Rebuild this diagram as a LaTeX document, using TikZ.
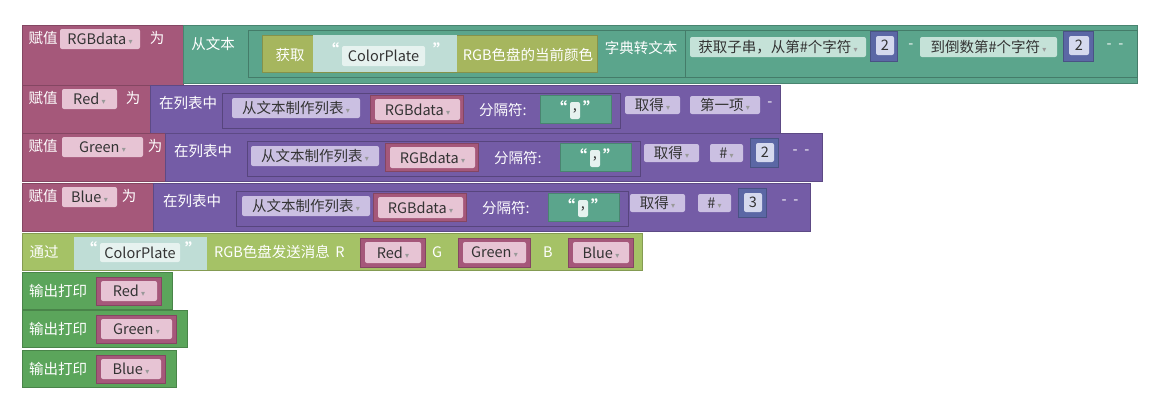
\documentclass[tikz,border=0pt]{standalone}
\usepackage{fontspec}
\setmainfont{Noto Sans CJK SC}
\newfontfamily\dv{DejaVu Sans}
\usetikzlibrary{fit}
\definecolor{cpink}{HTML}{A5587A}
\definecolor{cteal}{HTML}{5BA58C}
\definecolor{colive}{HTML}{A6B65E}
\definecolor{cstr}{HTML}{BFDDD6}
\definecolor{cpur}{HTML}{745CA6}
\definecolor{cnum}{HTML}{5B67A5}
\definecolor{clgreen}{HTML}{A5C266}
\definecolor{cgreen}{HTML}{5BA55B}
\definecolor{ddpink}{HTML}{E7C4D4}
\definecolor{ddteal}{HTML}{C5E2D8}
\definecolor{ddpur}{HTML}{CBC0E2}
\definecolor{ddnum}{HTML}{D5D9EE}
\definecolor{ddstr}{HTML}{E6F2EF}
\newcommand\blk[6]{\node[#2,fit={(#3,#4)(#5,#6)},inner sep=0pt] (#1) {};}
\newcommand\arr{\,{\dv\fontsize{8}{8}\selectfont\textcolor{black!40}{▾}}}
\tikzset{
 blockA/.style={fill=#1,draw=#1!80!black,line width=0.6pt},
 outl/.style={draw=#1!75!black,line width=0.8pt},
 dd/.style={fill=#1,rounded corners=2pt},
 wt/.style={text=white,font=\fontsize{14.5}{16}\selectfont,inner sep=0pt},
 dt/.style={text=black!80,font=\fontsize{14.5}{16}\selectfont,inner sep=0pt},
 qt/.style={text=white,font=\bfseries\fontsize{16}{16}\selectfont,inner sep=0pt},
}
\begin{document}
\begin{tikzpicture}[x=1pt,y=-1pt]
\useasboundingbox (0,0) rectangle (1150,405);
% Row 1
\blk{p1}{blockA=cpink}{22}{25}{183}{85}
\blk{t1}{blockA=cteal}{183}{25}{1137}{83}
\blk{o1}{outl=cteal}{248}{30}{685}{77}
\blk{ol1}{blockA=colive}{262}{35}{597}{72}
\blk{s1}{fill=cstr}{313}{35}{457}{72}
\blk{s1i}{dd=ddstr}{342}{46}{425}{66}
\blk{d1}{dd=ddpink}{60}{29}{140}{49}
\blk{o1b}{outl=cteal}{685}{30}{1137}{77}
\blk{dd1a}{dd=ddteal}{690}{37}{866}{57}
\blk{n1a}{blockA=cnum}{870}{31}{897}{61}
\blk{n1ai}{dd=ddnum}{876}{36}{894}{55}
\blk{dd1b}{dd=ddteal}{920}{37}{1057}{57}
\blk{n1b}{blockA=cnum}{1063}{31}{1093}{61}
\blk{n1bi}{dd=ddnum}{1069}{36}{1089}{55}
\node[wt] at (43,38) {赋值};
\node[dt] at (d1) {RGBdata\arr};
\node[wt] at (157,38) {为};
\node[wt] at (213,44) {从文本};
\node[wt] at (290,55) {获取};
\node[qt] at (331,50) {“};
\node[dt] at (s1i) {ColorPlate};
\node[qt] at (441,50) {”};
\node[wt] at (528,55) {RGB色盘的当前颜色};
\node[wt] at (641,48) {字典转文本};
\node[dt] at (dd1a) {获取子串，从第\#个字符\arr};
\node[dt] at (n1ai) {2};
\node[wt] at (911,46) {-};
\node[dt] at (dd1b) {到倒数第\#个字符\arr};
\node[dt] at (n1bi) {2};
\node[wt] at (1115,46) {-\ \ -};
% Rows 2-4
\foreach \r/\y/\pw/\pe in {2/85/150/780, 3/133/165/822, 4/183/153/810}{
 \pgfmathsetmacro\yb{\y+48}
 \blk{p\r}{blockA=cpink}{22}{\y}{\pw}{\yb}
 \blk{u\r}{blockA=cpur}{\pw}{\y}{\pe}{\yb}
}
\foreach \r/\y/\vw/\wx/\lx/\ox/\oxe/\ddx/\rb/\sx/\qx/\dx in {
 2/85/117/133/188/222/620/232/370/503/540/625,
 3/133/143/155/203/247/640/251/385/518/560/644,
 4/183/117/129/192/236/628/242/373/506/548/630}{
 \pgfmathsetmacro\ya{\y+4}\pgfmathsetmacro\yc{\y+24}
 \blk{v\r}{dd=ddpink}{62}{\ya}{\vw}{\yc}
 \pgfmathsetmacro\yo{\y+8}\pgfmathsetmacro\yoo{\y+43}
 \blk{o\r}{outl=cpur}{\ox}{\yo}{\oxe}{\yoo}
 \pgfmathsetmacro\yd{\y+13}\pgfmathsetmacro\ydd{\y+33}
 \pgfmathsetmacro\ddxe{\ddx+128}
 \blk{m\r}{dd=ddpur}{\ddx}{\yd}{\ddxe}{\ydd}
 \pgfmathsetmacro\yr{\y+10}\pgfmathsetmacro\yrr{\y+38}
 \pgfmathsetmacro\rbe{\rb+93}
 \blk{rb\r}{blockA=cpink}{\rb}{\yr}{\rbe}{\yrr}
 \pgfmathsetmacro\rbi{\rb+5}\pgfmathsetmacro\rbie{\rb+90}
 \pgfmathsetmacro\yri{\y+14}\pgfmathsetmacro\yrii{\y+35}
 \blk{rbi\r}{dd=ddpink}{\rbi}{\yri}{\rbie}{\yrii}
 \pgfmathsetmacro\qxe{\qx+71}
 \blk{q\r}{blockA=cteal}{\qx}{\yr}{\qxe}{\yrr}
 \pgfmathsetmacro\qm{\qx+35}
 \pgfmathsetmacro\yq{\y+17}\pgfmathsetmacro\yqq{\y+34}
 \pgfmathsetmacro\qa{\qm-5}\pgfmathsetmacro\qb{\qm+5}
 \blk{qi\r}{dd=ddstr}{\qa}{\yq}{\qb}{\yqq}
 \pgfmathsetmacro\dxe{\dx+55}
 \pgfmathsetmacro\yg{\y+11}\pgfmathsetmacro\ygg{\y+29}
 \blk{g\r}{dd=ddpur}{\dx}{\yg}{\dxe}{\ygg}
 \pgfmathsetmacro\yw{\y+13}\pgfmathsetmacro\yl{\y+18}\pgfmathsetmacro\ys{\y+25}
 \pgfmathsetmacro\yqt{\y+23}
 \pgfmathsetmacro\qla{\qm-16}\pgfmathsetmacro\qlb{\qm+16}
 \node[wt] at (43,\yw) {赋值};
 \node[wt] at (\wx,\yw) {为};
 \node[wt] at (\lx,\yl) {在列表中};
 \node[dt] at (m\r) {从文本制作列表\arr};
 \node[dt] at (rbi\r) {RGBdata\arr};
 \node[wt] at (\sx,\ys) {分隔符:};
 \node[qt] at (\qla,\yqt) {“};
 \node[qt] at (\qlb,\yqt) {”};
 \node[dt] at (qi\r) {,};
 \node[dt] at (g\r) {取得\arr};
}
\node[dt] at (v2) {Red\arr};
\node[dt] at (v3) {Green\arr};
\node[dt] at (v4) {Blue\arr};
\blk{f2}{dd=ddpur}{690}{96}{760}{114}
\node[dt] at (f2) {第一项\arr};
\node[wt] at (770,104) {-};
\blk{h3}{dd=ddpur}{710}{144}{743}{162}
\node[dt] at (h3) {\#\arr};
\blk{n3}{blockA=cnum}{750}{138}{778}{167}
\blk{n3i}{dd=ddnum}{756}{143}{774}{162}
\node[dt] at (n3i) {2};
\node[wt] at (801,152) {-\ \ -};
\blk{h4}{dd=ddpur}{698}{194}{731}{212}
\node[dt] at (h4) {\#\arr};
\blk{n4}{blockA=cnum}{738}{188}{766}{217}
\blk{n4i}{dd=ddnum}{744}{193}{762}{212}
\node[dt] at (n4i) {3};
\node[wt] at (790,202) {-\ \ -};
% Row 5
\blk{l5}{blockA=clgreen}{22}{233}{642}{270}
\blk{s5}{fill=cstr}{74}{237}{207}{270}
\blk{s5i}{dd=ddstr}{100}{243}{180}{262}
\node[wt] at (44,252) {通过};
\node[qt] at (89,249) {“};
\node[dt] at (s5i) {ColorPlate};
\node[qt] at (193,249) {”};
\node[wt] at (272,252) {RGB色盘发送消息};
\node[wt] at (340,252) {R};
\node[wt] at (437,252) {G};
\node[wt] at (548,252) {B};
\blk{r5}{blockA=cpink}{360}{238}{425}{267}
\blk{r5i}{dd=ddpink}{365}{242}{421}{263}
\node[dt] at (r5i) {Red\arr};
\blk{g5}{blockA=cpink}{458}{238}{530}{267}
\blk{g5i}{dd=ddpink}{463}{242}{526}{263}
\node[dt] at (g5i) {Green\arr};
\blk{b5}{blockA=cpink}{568}{238}{633}{267}
\blk{b5i}{dd=ddpink}{573}{242}{629}{263}
\node[dt] at (b5i) {Blue\arr};
% Rows 6-8
\foreach \r/\y/\xe/\be/\t in {6/272/172/161/Red,7/310/187/176/Green,8/350/176/165/Blue}{
 \pgfmathsetmacro\yb{\y+37}
 \blk{k\r}{blockA=cgreen}{22}{\y}{\xe}{\yb}
 \pgfmathsetmacro\ya{\y+5}\pgfmathsetmacro\yc{\y+33}
 \blk{kb\r}{blockA=cpink}{96}{\ya}{\be}{\yc}
 \pgfmathsetmacro\yai{\y+9}\pgfmathsetmacro\yci{\y+29}
 \pgfmathsetmacro\bi{\be-4}
 \blk{kbi\r}{dd=ddpink}{101}{\yai}{\bi}{\yci}
 \node[dt] at (kbi\r) {\t\arr};
 \pgfmathsetmacro\yt{\y+19}
 \node[wt] at (58,\yt) {输出打印};
}
\end{tikzpicture}
\end{document}
